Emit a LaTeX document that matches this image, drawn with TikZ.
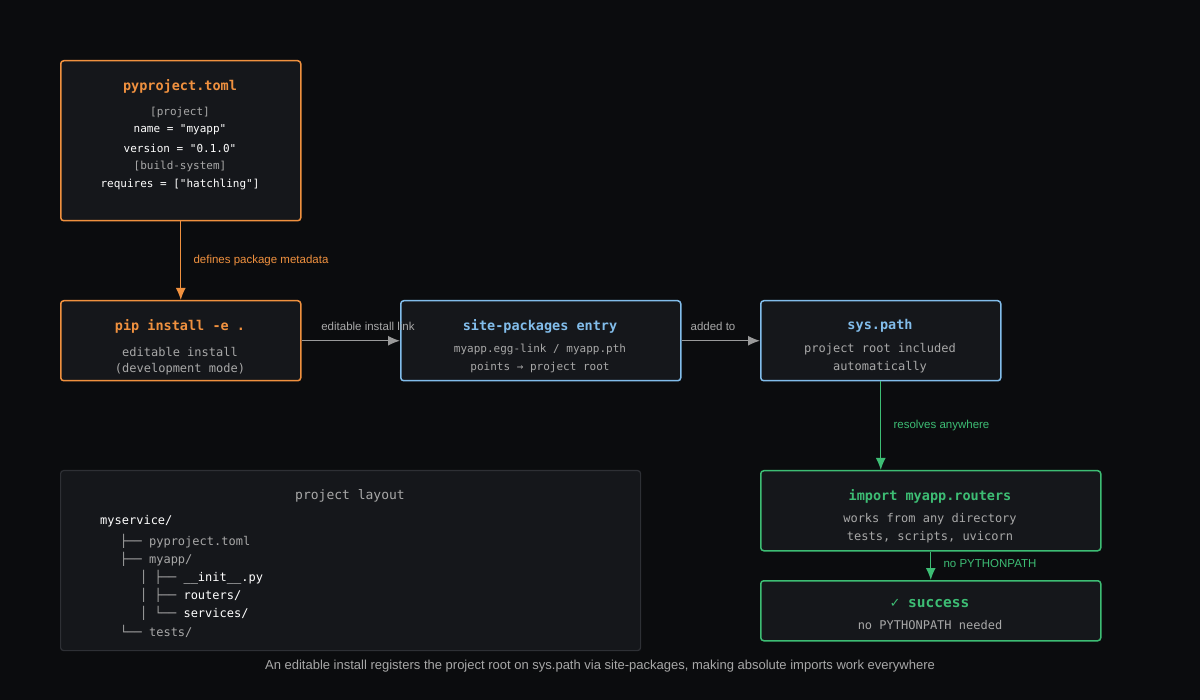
\documentclass[tikz,border=0pt]{standalone}
\usepackage{fontspec}
\setmainfont{Liberation Sans}
\newfontfamily\mono{DejaVu Sans Mono}
\usetikzlibrary{arrows.meta}
\definecolor{bg}{HTML}{0B0C0E}
\definecolor{boxf}{HTML}{15171B}
\definecolor{ora}{HTML}{F0913F}
\definecolor{blu}{HTML}{82BDEB}
\definecolor{grn}{HTML}{3DBD74}
\definecolor{gtx}{HTML}{A8A8A8}
\definecolor{gln}{HTML}{9A9A9A}
\definecolor{lay}{HTML}{2E3035}
\begin{document}
\begin{tikzpicture}[x=1pt,y=-1pt,
 box/.style={draw=#1,fill=boxf,line width=1.5pt,rounded corners=3pt},
 ttl/.style={font=\mono\fontsize{13.5}{16}\selectfont\bfseries,text=#1},
 mt/.style={font=\mono\fontsize{11}{13}\selectfont,text=#1},
 lbl/.style={font=\fontsize{11.5}{13}\selectfont,text=#1},
 tr/.style={font=\mono\fontsize{12}{14}\selectfont,anchor=west,inner sep=0pt,text=#1},
 arr/.style={draw=#1,line width=1.3pt,-{Latex[length=12pt,width=10pt]}}]
\useasboundingbox[fill=bg] (0,0) rectangle (1200,700);
% boxes
\node[box=ora,minimum width=240,minimum height=160,anchor=north west] (py) at (60,60) {};
\node[box=ora,minimum width=240,minimum height=80,anchor=north west] (pip) at (60,300) {};
\node[box=blu,minimum width=280,minimum height=80,anchor=north west] (site) at (400,300) {};
\node[box=blu,minimum width=240,minimum height=80,anchor=north west] (sys) at (760,300) {};
\node[box=grn,minimum width=340,minimum height=80,anchor=north west] (imp) at (760,470) {};
\node[box=grn,minimum width=340,minimum height=60,anchor=north west] (suc) at (760,580) {};
\node[draw=lay,fill=boxf,line width=1.2pt,rounded corners=3pt,minimum width=580,minimum height=180,anchor=north west] (lay) at (60,470) {};
% pyproject texts
\node[ttl=ora] (t1) at (180,86) {pyproject.toml};
\node[mt=gtx] (p1) at (180,112) {[project]};
\node[mt=white] (p2) at (180,130) {name = "myapp"};
\node[mt=white] (p3) at (180,148) {version = "0.1.0"};
\node[mt=gtx] (p4) at (180,166) {[build-system]};
\node[mt=white] (p5) at (180,184) {requires = ["hatchling"]};
% pip
\node[ttl=ora] (t2) at (180,326) {pip install -e .};
\node[mt=gtx,font=\mono\fontsize{12}{14}\selectfont] (q1) at (180,352) {editable install};
\node[mt=gtx,font=\mono\fontsize{12}{14}\selectfont] (q2) at (180,369) {(development mode)};
% site
\node[ttl=blu] (t3) at (540,326) {site-packages entry};
\node[mt=gtx] (s1) at (540,349) {myapp.egg-link / myapp.pth};
\node[mt=gtx] (s2) at (540,367) {points → project root};
% sys
\node[ttl=blu] (t4) at (880,326) {sys.path};
\node[mt=gtx,font=\mono\fontsize{12}{14}\selectfont] (y1) at (880,349) {project root included};
\node[mt=gtx,font=\mono\fontsize{12}{14}\selectfont] (y2) at (880,367) {automatically};
% import
\node[ttl=grn] (t5) at (930,496) {import myapp.routers};
\node[mt=gtx,font=\mono\fontsize{12}{14}\selectfont] (i1) at (930,519) {works from any directory};
\node[mt=gtx,font=\mono\fontsize{12}{14}\selectfont] (i2) at (930,537) {tests, scripts, uvicorn};
% success
\node[ttl=grn,font=\mono\fontsize{14.5}{16}\selectfont\bfseries] (t6) at (930,604) {✓ success};
\node[mt=gtx,font=\mono\fontsize{12}{14}\selectfont] (u1) at (930,625) {no PYTHONPATH needed};
% layout
\node[mt=gtx,font=\mono\fontsize{13}{15}\selectfont] (l0) at (350,496) {project layout};
\node[tr=white] (l1) at (100,521) {myservice/};
\node[tr=gtx] (l2) at (120,541) {├── pyproject.toml};
\node[tr=gtx] (l3) at (120,559) {├── myapp/};
\node[tr=white] (l4) at (140,577) {{\color{gtx}│ ├──} \_\_init\_\_.py};
\node[tr=white] (l5) at (140,595) {{\color{gtx}│ ├──} routers/};
\node[tr=white] (l6) at (140,613) {{\color{gtx}│ └──} services/};
\node[tr=gtx] (l7) at (120,631) {└── tests/};
% arrows
\draw[arr=ora] (py.south) -- (pip.north);
\node[lbl=ora,anchor=west] (a1) at (190,261) {defines package metadata};
\draw[arr=gln] (pip.east) -- (site.west);
\node[lbl=gtx] (a2) at (368,326) {editable install link};
\draw[arr=gln] (site.east) -- (sys.west);
\node[lbl=gtx] (a3) at (713,326) {added to};
\draw[arr=grn] (sys.south) -- (sys.south |- imp.north);
\node[lbl=grn,anchor=west] (a4) at (890,426) {resolves anywhere};
\draw[arr=grn] (imp.south) -- (suc.north);
\node[lbl=grn,anchor=west] (a5) at (940,564) {no PYTHONPATH};
\node[lbl=gtx,font=\fontsize{13}{15}\selectfont] (cap) at (600,666) {An editable install registers the project root on sys.path via site-packages, making absolute imports work everywhere};
\end{tikzpicture}
\end{document}
